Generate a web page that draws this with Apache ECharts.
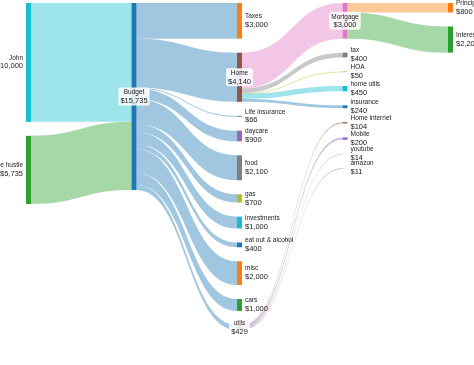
<!DOCTYPE html>
<html><head><meta charset="utf-8">
<script src="https://cdn.jsdelivr.net/npm/echarts@6/dist/echarts.min.js"></script>
<style>html,body{margin:0;padding:0;background:#fff}#c{width:474px;height:365px}</style>
</head><body><div id="c"></div>
<script>
const nodeNames = ['John','side hustle','Budget','Taxes','Home','Life insurance','daycare','food','gas','investments','eat out & alcohol','misc','cars','utils','Mortgage','tax','HOA','home utils','insurance','Principal','Interest','Home internet','Mobile','youtube','amazon'];
const nodeColors = ['#17becf','#2ca02c','#1f77b4','#ff7f0e','#8c564b','#d62728','#9467bd','#7f7f7f','#bcbd22','#17becf','#1f77b4','#ff7f0e','#2ca02c','#d62728','#e377c2','#7f7f7f','#bcbd22','#17becf','#1f77b4','#ff7f0e','#2ca02c','#8c564b','#9467bd','#e377c2','#7f7f7f'];
const linkSources = ['John','side hustle','Budget','Budget','Budget','Budget','Budget','Budget','Budget','Budget','Budget','Budget','Budget','Home','Home','Home','Home','Home','Mortgage','Mortgage','utils','utils','utils','utils'];
const linkTargets = ['Budget','Budget','Taxes','Home','Life insurance','daycare','food','gas','investments','eat out & alcohol','misc','cars','utils','Mortgage','tax','HOA','home utils','insurance','Principal','Interest','Home internet','Mobile','youtube','amazon'];
const linkValues = [10000,5735,3000,4140,66,900,2100,700,1000,400,2000,1000,429,3000,400,50,450,240,800,2200,104,200,14,11];
const linkColors = ['#17becf','#2ca02c','#1f77b4','#1f77b4','#1f77b4','#1f77b4','#1f77b4','#1f77b4','#1f77b4','#1f77b4','#1f77b4','#1f77b4','#1f77b4','#e377c2','#7f7f7f','#bcbd22','#17becf','#1f77b4','#ff7f0e','#2ca02c','#8c564b','#9467bd','#e377c2','#7f7f7f'];

const FONT = 'Liberation Sans';
const hasIn = new Set(linkTargets), hasOut = new Set(linkSources);
const fmt = v => '$' + Math.round(v).toLocaleString('en-US');
const richCenter = {
  n: {fontSize: 6.5, lineHeight: 8, color: '#222', align: 'center', fontFamily: FONT},
  v: {fontSize: 7.5, lineHeight: 9, color: '#222', align: 'center', fontFamily: FONT}
};
const nodes = nodeNames.map((n, i) => {
  let label;
  if (!hasIn.has(n)) {
    label = {position: 'left', align: 'right', distance: 3};
  } else if (hasOut.has(n)) {
    label = {position: 'inside', align: 'center', backgroundColor: 'rgba(255,255,255,0.85)', padding: [1, 2, 0, 2], borderRadius: 2, rich: richCenter};
  } else {
    label = {position: 'right', align: 'left', distance: 3};
  }
  return {name: n, itemStyle: {color: nodeColors[i]}, label};
});
const links = linkSources.map((s, i) => ({source: s, target: linkTargets[i], value: linkValues[i], lineStyle: {color: linkColors[i], opacity: 0.42}}));

const chart = echarts.init(document.getElementById('c'), null, {renderer: 'canvas'});
chart.setOption({
  animation: false,
  series: [{
    type: 'sankey',
    left: 26, right: 21, top: 3, bottom: 35,
    nodeWidth: 5, nodeGap: 14,
    nodeAlign: 'left',
    layoutIterations: 0,
    emphasis: {disabled: true},
    data: nodes,
    links: links,
    itemStyle: {borderWidth: 0},
    lineStyle: {curveness: 0.5},
    label: {
      fontFamily: FONT, color: '#222',
      formatter: p => '{n|' + p.name + '}\n{v|' + fmt(p.value) + '}',
      rich: {
        n: {fontSize: 6.5, lineHeight: 8, color: '#222', fontFamily: FONT},
        v: {fontSize: 7.5, lineHeight: 9, color: '#222', fontFamily: FONT}
      }
    }
  }]
});
</script></body></html>
